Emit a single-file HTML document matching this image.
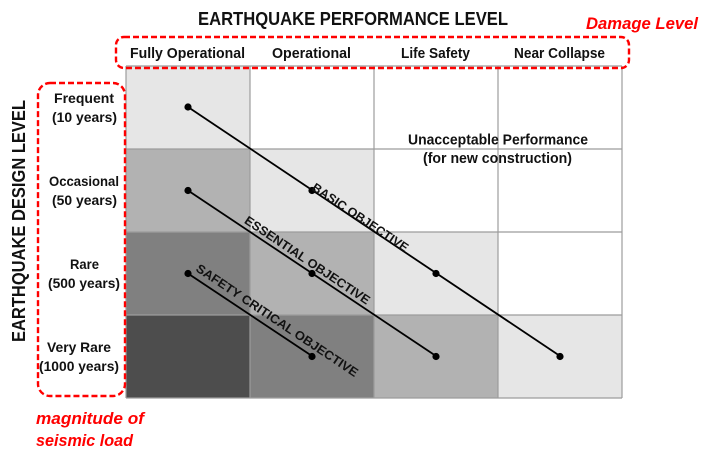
<!DOCTYPE html>
<html>
<head>
<meta charset="utf-8">
<style>
  html, body { margin: 0; padding: 0; background: #ffffff; }
  body { width: 704px; height: 453px; overflow: hidden; }
  svg { display: block; }
  text { font-family: "Liberation Sans", "DejaVu Sans", sans-serif; font-weight: bold; fill: #111; }
  .red { fill: #ff0000; font-style: italic; }
</style>
</head>
<body>
<svg width="704" height="453" viewBox="0 0 704 453" xmlns="http://www.w3.org/2000/svg">
  <rect x="0" y="0" width="704" height="453" fill="#ffffff"/>

  <!-- cells -->
  <g>
    <!-- row 0 -->
    <rect x="126" y="66" width="124" height="83" fill="#e6e6e6"/>
    <!-- row 1 -->
    <rect x="126" y="149" width="124" height="83" fill="#b2b2b2"/>
    <rect x="250" y="149" width="124" height="83" fill="#e6e6e6"/>
    <!-- row 2 -->
    <rect x="126" y="232" width="124" height="83" fill="#808080"/>
    <rect x="250" y="232" width="124" height="83" fill="#b2b2b2"/>
    <rect x="374" y="232" width="124" height="83" fill="#e6e6e6"/>
    <!-- row 3 -->
    <rect x="126" y="315" width="124" height="83" fill="#4d4d4d"/>
    <rect x="250" y="315" width="124" height="83" fill="#808080"/>
    <rect x="374" y="315" width="124" height="83" fill="#b2b2b2"/>
    <rect x="498" y="315" width="124" height="83" fill="#e6e6e6"/>
  </g>

  <!-- grid lines -->
  <g stroke="#9c9c9c" stroke-width="1.2" fill="none">
    <line x1="126" y1="66" x2="126" y2="398"/>
    <line x1="250" y1="66" x2="250" y2="398"/>
    <line x1="374" y1="66" x2="374" y2="398"/>
    <line x1="498" y1="66" x2="498" y2="398"/>
    <line x1="622" y1="66" x2="622" y2="398"/>
    <line x1="126" y1="66" x2="622" y2="66"/>
    <line x1="126" y1="149" x2="622" y2="149"/>
    <line x1="126" y1="232" x2="622" y2="232"/>
    <line x1="126" y1="315" x2="622" y2="315"/>
    <line x1="126" y1="398" x2="622" y2="398"/>
  </g>

  <!-- objective lines -->
  <g stroke="#000" stroke-width="1.8" fill="none">
    <line x1="188" y1="107" x2="560" y2="356"/>
    <line x1="188" y1="190.5" x2="436" y2="356"/>
    <line x1="188" y1="273.5" x2="312" y2="356"/>
  </g>
  <g fill="#000">
    <circle cx="188" cy="107" r="3.6"/>
    <circle cx="312" cy="190.5" r="3.6"/>
    <circle cx="436" cy="273.5" r="3.6"/>
    <circle cx="560" cy="356.5" r="3.6"/>
    <circle cx="188" cy="190.5" r="3.6"/>
    <circle cx="312" cy="273.5" r="3.6"/>
    <circle cx="436" cy="356.5" r="3.6"/>
    <circle cx="188" cy="273.5" r="3.6"/>
    <circle cx="312" cy="356.5" r="3.6"/>
  </g>

  <!-- diagonal labels -->
  <text transform="translate(311,189.5) rotate(33.8)" font-size="12.5" textLength="113" lengthAdjust="spacingAndGlyphs">BASIC OBJECTIVE</text>
  <text transform="translate(243.5,222.5) rotate(33.8)" font-size="12.5" textLength="148" lengthAdjust="spacingAndGlyphs">ESSENTIAL OBJECTIVE</text>
  <text transform="translate(195,270.5) rotate(33.8)" font-size="12.5" textLength="192" lengthAdjust="spacingAndGlyphs">SAFETY CRITICAL OBJECTIVE</text>

  <!-- dashed boxes -->
  <rect x="116" y="37" width="513" height="31" rx="8" ry="8" fill="none" stroke="#ff0000" stroke-width="2.4" stroke-dasharray="6 3"/>
  <rect x="38" y="83" width="87" height="313" rx="12" ry="12" fill="none" stroke="#ff0000" stroke-width="2.4" stroke-dasharray="6 3"/>

  <!-- title -->
  <text x="198" y="25" font-size="18" textLength="310" lengthAdjust="spacingAndGlyphs">EARTHQUAKE PERFORMANCE LEVEL</text>

  <!-- column headers -->
  <text x="130" y="58" font-size="14.5" textLength="115" lengthAdjust="spacingAndGlyphs">Fully Operational</text>
  <text x="272" y="58" font-size="14.5" textLength="79" lengthAdjust="spacingAndGlyphs">Operational</text>
  <text x="401" y="58" font-size="14.5" textLength="69" lengthAdjust="spacingAndGlyphs">Life Safety</text>
  <text x="514" y="58" font-size="14.5" textLength="91" lengthAdjust="spacingAndGlyphs">Near Collapse</text>

  <!-- damage level -->
  <text class="red" x="586" y="29" font-size="16.5" textLength="112" lengthAdjust="spacingAndGlyphs">Damage Level</text>

  <!-- vertical label -->
  <text transform="translate(25,342) rotate(-90)" font-size="18" textLength="242" lengthAdjust="spacingAndGlyphs">EARTHQUAKE DESIGN LEVEL</text>

  <!-- row labels -->
  <text x="54" y="103" font-size="14" textLength="60" lengthAdjust="spacingAndGlyphs">Frequent</text>
  <text x="52" y="122" font-size="14" textLength="65" lengthAdjust="spacingAndGlyphs">(10 years)</text>
  <text x="49" y="186" font-size="14" textLength="70" lengthAdjust="spacingAndGlyphs">Occasional</text>
  <text x="52" y="205" font-size="14" textLength="65" lengthAdjust="spacingAndGlyphs">(50 years)</text>
  <text x="70" y="269" font-size="14" textLength="29" lengthAdjust="spacingAndGlyphs">Rare</text>
  <text x="48" y="288" font-size="14" textLength="72" lengthAdjust="spacingAndGlyphs">(500 years)</text>
  <text x="47" y="352" font-size="14" textLength="64" lengthAdjust="spacingAndGlyphs">Very Rare</text>
  <text x="39" y="371" font-size="14" textLength="80" lengthAdjust="spacingAndGlyphs">(1000 years)</text>

  <!-- unacceptable performance -->
  <text x="408" y="144.5" font-size="14.5" textLength="180" lengthAdjust="spacingAndGlyphs">Unacceptable Performance</text>
  <text x="423" y="163" font-size="14.5" textLength="149" lengthAdjust="spacingAndGlyphs">(for new construction)</text>

  <!-- magnitude of seismic load -->
  <text class="red" x="36" y="424" font-size="16.5" textLength="108" lengthAdjust="spacingAndGlyphs">magnitude of</text>
  <text class="red" x="36" y="446" font-size="16.5" textLength="97" lengthAdjust="spacingAndGlyphs">seismic load</text>
</svg>
</body>
</html>
